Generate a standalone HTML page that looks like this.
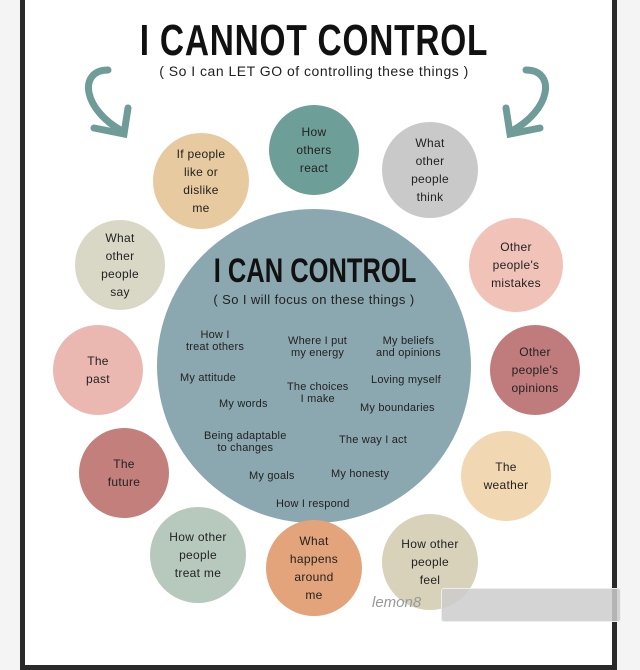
<!DOCTYPE html>
<html><head><style>
body{margin:0;width:640px;height:640px;background:#f4f4f4;overflow:hidden;position:relative;font-family:"Liberation Sans",sans-serif;color:#222}
.frame{position:absolute;left:20px;top:-10px;width:587px;height:670px;border:5px solid #2a2a2a;background:#fff}
.c{position:absolute;border-radius:50%;display:flex;align-items:center;justify-content:center;text-align:center;font-size:12px;line-height:18px;letter-spacing:.3px}
.t{position:absolute;font-size:11px;line-height:12px;text-align:center;white-space:nowrap;letter-spacing:.2px}
</style></head><body>
<div class="frame"></div>
<div style="position:absolute;left:0;width:628px;top:16px;text-align:center;font-size:44px;line-height:50px;font-weight:bold;transform:scaleX(.76);letter-spacing:1px;color:#111">I CANNOT CONTROL</div>
<div style="position:absolute;left:0;width:628px;top:63px;text-align:center;font-size:14px;letter-spacing:.5px">( So I can LET GO of controlling these things )</div>
<svg style="position:absolute;left:0;top:0" width="640" height="200">
<g fill="none" stroke="#6f9c98" stroke-width="7" stroke-linecap="round">
<path d="M108 70 C78 70 82 110 124 132"/><path d="M94 128 L124 134 L128 108"/>
<path d="M526 70 C556 70 552 110 510 132"/><path d="M540 128 L510 134 L506 108"/>
</g></svg>
<div class="c" style="left:157px;top:209px;width:314px;height:314px;background:#8ba7b0"></div>
<div style="position:absolute;left:0;width:630px;top:252px;text-align:center;font-size:34px;font-weight:bold;transform:scaleX(.75);color:#111">I CAN CONTROL</div>
<div style="position:absolute;left:0;width:628px;top:292px;text-align:center;font-size:13px;letter-spacing:.4px">( So I will focus on these things )</div>
<div class="t" style="left:186px;top:329px">How I<br>treat others</div>
<div class="t" style="left:288px;top:335px">Where I put<br>my energy</div>
<div class="t" style="left:376px;top:335px">My beliefs<br>and opinions</div>
<div class="t" style="left:180px;top:372px">My attitude</div>
<div class="t" style="left:371px;top:374px">Loving myself</div>
<div class="t" style="left:287px;top:381px">The choices<br>I make</div>
<div class="t" style="left:219px;top:398px">My words</div>
<div class="t" style="left:360px;top:402px">My boundaries</div>
<div class="t" style="left:204px;top:430px">Being adaptable<br>to changes</div>
<div class="t" style="left:339px;top:434px">The way I act</div>
<div class="t" style="left:249px;top:470px">My goals</div>
<div class="t" style="left:331px;top:468px">My honesty</div>
<div class="t" style="left:276px;top:498px">How I respond</div>

<div class="c" style="left:269px;top:105px;width:90px;height:90px;background:#6e9e98">How<br>others<br>react</div>
<div class="c" style="left:153px;top:133px;width:96px;height:96px;background:#e8caa0">If people<br>like or<br>dislike<br>me</div>
<div class="c" style="left:382px;top:122px;width:96px;height:96px;background:#c9c9c9">What<br>other<br>people<br>think</div>
<div class="c" style="left:75px;top:220px;width:90px;height:90px;background:#d9d7c6">What<br>other<br>people<br>say</div>
<div class="c" style="left:469px;top:218px;width:94px;height:94px;background:#f0c2b8">Other<br>people's<br>mistakes</div>
<div class="c" style="left:53px;top:325px;width:90px;height:90px;background:#eab8b0">The<br>past</div>
<div class="c" style="left:490px;top:325px;width:90px;height:90px;background:#c07b7c">Other<br>people's<br>opinions</div>
<div class="c" style="left:79px;top:428px;width:90px;height:90px;background:#c27f7c">The<br>future</div>
<div class="c" style="left:461px;top:431px;width:90px;height:90px;background:#f1d7b2">The<br>weather</div>
<div class="c" style="left:150px;top:507px;width:96px;height:96px;background:#b7c9bd">How other<br>people<br>treat me</div>
<div class="c" style="left:266px;top:520px;width:96px;height:96px;background:#e3a47c">What<br>happens<br>around<br>me</div>
<div class="c" style="left:382px;top:514px;width:96px;height:96px;background:#d8d2bb">How other<br>people<br>feel</div>
<div style="position:absolute;left:372px;top:594px;font-size:15px;font-style:italic;color:#999">lemon8</div>
<div style="position:absolute;left:441px;top:588px;width:178px;height:32px;background:rgba(205,205,205,.85);border:1px solid #eee;border-radius:3px"></div>
</body></html>
